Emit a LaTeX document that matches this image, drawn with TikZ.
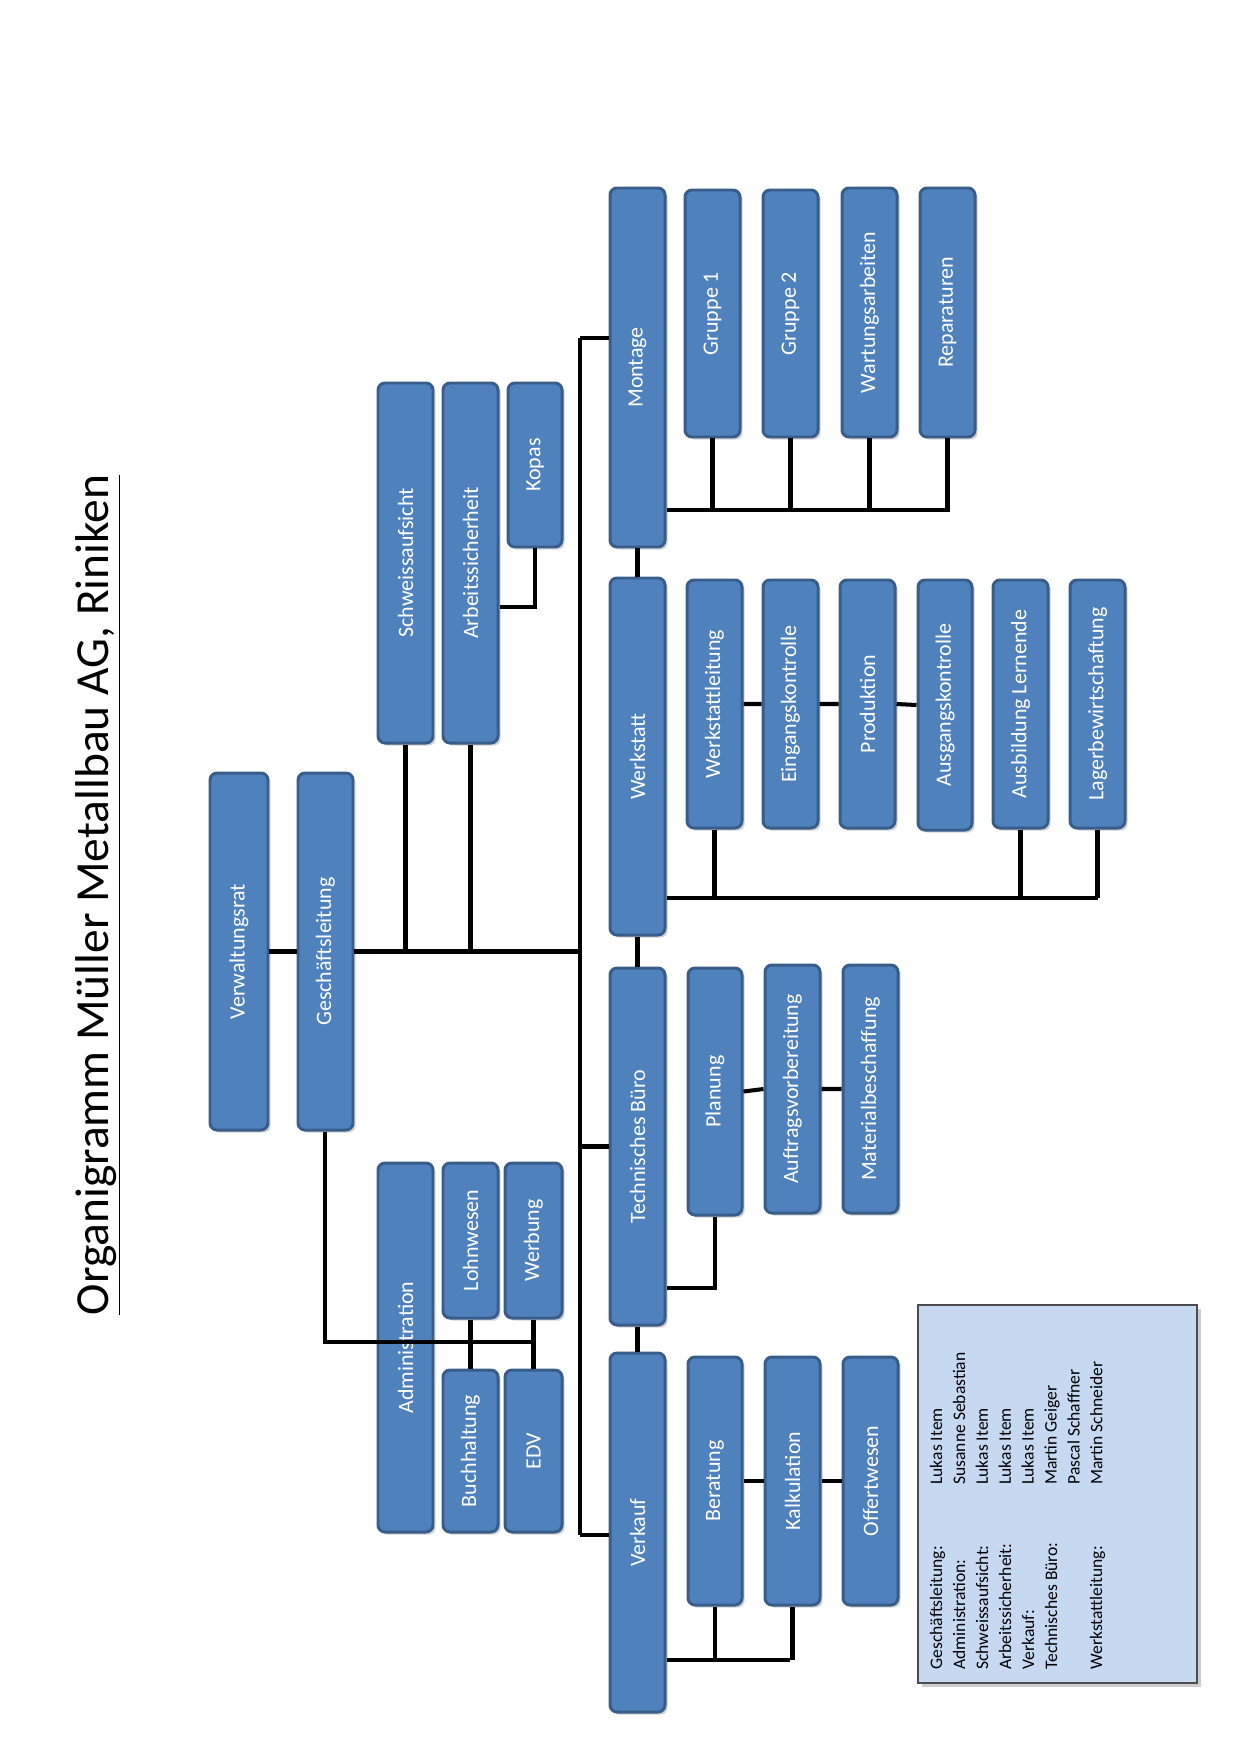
\documentclass[tikz,border=0pt]{standalone}
\usepackage{fontspec}
\setmainfont{Carlito}
\usetikzlibrary{shadows}
\definecolor{bfill}{HTML}{4F81BD}
\definecolor{bdraw}{HTML}{385D8A}
\definecolor{lfill}{HTML}{C6D9F1}
\tikzset{
 box/.style={draw=bdraw,line width=1.7pt,fill=bfill,rounded corners=4pt,text=white,inner sep=0pt,
   font=\fontsize{12.5}{14}\selectfont,drop shadow={shadow xshift=1.5pt,shadow yshift=-1.5pt,opacity=0.35}},
 con/.style={line width=2.3pt,black},
}
\newcommand\bx[6]{\node[box,minimum width={(#4-#2)*0.02cm},minimum height={(#5-#3)*0.02cm}] (#1) at ({(#2+#4)/2},{-(#3+#5)/2}) {\rotatebox{90}{#6}};}
\begin{document}
\begin{tikzpicture}[x=0.02cm,y=0.02cm]
\useasboundingbox (0,0) rectangle (1240,-1754);
\node[rotate=90,font=\fontsize{27}{30}\selectfont,inner sep=0pt] (title) at (98,-895) {\underline{Organigramm Müller Metallbau AG, Riniken}};
% connectors first (under boxes)
\coordinate (T1) at (580,-338);
\coordinate (T2) at (580,-1535);
\coordinate (TA) at (535,-1342);
\coordinate (GA) at (325,-1342);
\coordinate (MH) at (950,-510);
\coordinate (WH) at (1098,-898);
\coordinate (VH) at (790,-1660);
% boxes
\bx{vr}{210}{773}{268}{1130}{Verwaltungsrat}
\bx{gl}{298}{773}{353}{1130}{Geschäftsleitung}
\bx{sa}{378}{383}{433}{743}{Schweissaufsicht}
\bx{as}{443}{383}{498}{743}{Arbeitssicherheit}
\bx{ko}{508}{383}{562}{547}{Kopas}
\bx{ad}{378}{1163}{433}{1532}{Administration}
\bx{lo}{443}{1163}{498}{1318}{Lohnwesen}
\bx{we}{505}{1163}{562}{1318}{Werbung}
\bx{bu}{443}{1370}{498}{1532}{Buchhaltung}
\bx{ed}{505}{1370}{562}{1532}{EDV}
\bx{mo}{610}{188}{665}{547}{Montage}
\bx{g1}{685}{190}{740}{437}{Gruppe 1}
\bx{g2}{763}{190}{818}{437}{Gruppe 2}
\bx{wa}{842}{188}{897}{437}{Wartungsarbeiten}
\bx{re}{920}{188}{975}{437}{Reparaturen}
\bx{ws}{610}{578}{665}{935}{Werkstatt}
\bx{wl}{687}{580}{742}{828}{Werkstattleitung}
\bx{ek}{763}{580}{818}{828}{Eingangskontrolle}
\bx{pr}{840}{580}{895}{828}{Produktion}
\bx{ak}{918}{580}{972}{830}{Ausgangskontrolle}
\bx{al}{993}{580}{1048}{828}{Ausbildung Lernende}
\bx{lb}{1070}{580}{1125}{828}{Lagerbewirtschaftung}
\bx{tb}{610}{968}{665}{1325}{Technisches Büro}
\bx{pl}{688}{968}{742}{1215}{Planung}
\bx{av}{765}{965}{820}{1213}{Auftragsvorbereitung}
\bx{mb}{843}{965}{898}{1213}{Materialbeschaffung}
\bx{vk}{610}{1353}{665}{1712}{Verkauf}
\bx{be}{688}{1357}{742}{1605}{Beratung}
\bx{ka}{765}{1357}{820}{1605}{Kalkulation}
\bx{of}{843}{1357}{898}{1605}{Offertwesen}
% connectors
\begin{scope}[on background layer/.style={}]
\end{scope}
\draw[con] (vr.east) -- (gl.west);
\draw[con] (gl.east) -- (gl.east -| T1);
\draw[con] (sa.south) -- (sa.south |- gl.east);
\draw[con] (as.south) -- (as.south |- gl.east);
\draw[con] (as.east |- 0,-607) -- (ko.south |- 0,-607) -- (ko.south);
\draw[con] (T1) -- (T2);
\draw[con] (T1) -- (T1 -| mo.west);
\draw[con] (T1 |- tb.west) -- (tb.west);
\draw[con] (T2) -- (T2 -| vk.west);
\draw[con] (mo.south) -- (ws.north);
\draw[con] (ws.south) -- (tb.north);
\draw[con] (tb.south) -- (vk.north);
\draw[con] (gl.south -| GA) -- (GA) -- (TA);
\draw[con] (lo.south) -- (bu.north);
\draw[con] (we.south) -- (ed.north);
\draw[con] (mo.east |- MH) -- (MH);
\foreach \n in {g1,g2,wa,re} \draw[con] (\n.south) -- (\n.south |- MH);
\draw[con] (ws.east |- WH) -- (WH);
\foreach \n in {wl,al,lb} \draw[con] (\n.south -| {\n.south}) -- (\n.south |- WH);
\draw[con] (wl.east) -- (ek.west) (ek.east) -- (pr.west) (pr.east) -- (ak.west);
\draw[con] (tb.east |- 0,-1288) -- (pl.south |- 0,-1288) -- (pl.south);
\draw[con] (pl.east) -- (av.west) (av.east) -- (mb.west);
\draw[con] (vk.east |- VH) -- (VH);
\foreach \n in {be,ka} \draw[con] (\n.south) -- (\n.south |- VH);
\draw[con] (be.east) -- (ka.west) (ka.east) -- (of.west);
% legend
\node[draw=black!70,line width=1pt,fill=lfill,minimum width={279*0.02cm},minimum height={378*0.02cm},inner sep=0pt,
  drop shadow={shadow xshift=2pt,shadow yshift=-2pt,opacity=0.4}] (leg) at (1057.5,-1494) {};
\foreach \t [count=\i] in {Geschäftsleitung:,Administration:,Schweissaufsicht:,Arbeitssicherheit:,Verkauf:,Technisches Büro:}
  \node[rotate=90,anchor=north west,inner sep=0pt,font=\fontsize{10}{12}\selectfont] at ({935-8+(\i-1)*23},-1670) {\t\strut};
\node[rotate=90,anchor=north west,inner sep=0pt,font=\fontsize{10}{12}\selectfont] at ({1095-8},-1670) {Werkstattleitung:\strut};
\foreach \t [count=\i] in {Lukas Item,Susanne Sebastian,Lukas Item,Lukas Item,Lukas Item,Martin Geiger,Pascal Schaffner,Martin Schneider}
  \node[rotate=90,anchor=north west,inner sep=0pt,font=\fontsize{10}{12}\selectfont] at ({935-8+(\i-1)*22.9},-1485) {\t\strut};
\end{tikzpicture}
\end{document}
